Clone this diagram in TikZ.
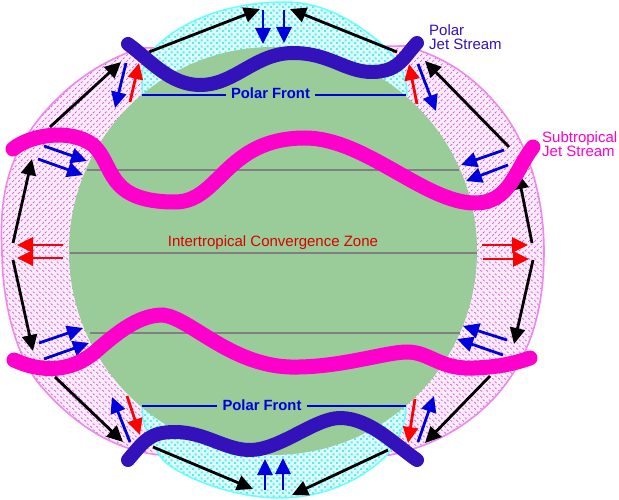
\documentclass[tikz,border=0pt]{standalone}
\usepackage{fontspec}
\setmainfont{Liberation Sans}
\usetikzlibrary{patterns,arrows.meta}
\definecolor{earth}{HTML}{99CC99}
\definecolor{fblue}{HTML}{0000DD}
\definecolor{jetpolar}{HTML}{3311BB}
\definecolor{jetsub}{HTML}{FF00CC}
\definecolor{pinkline}{HTML}{EE88EE}
\definecolor{pinkbase}{HTML}{FDECFD}
\definecolor{cyanline}{HTML}{66FFFF}
\definecolor{pinkdot}{HTML}{DA60DA}
\definecolor{cyandot}{HTML}{55EEEE}
\definecolor{cyanbase}{HTML}{E0FDFD}
\definecolor{latgray}{HTML}{808080}
\pgfdeclarepatternformonly{pinkne}{\pgfqpoint{0pt}{0pt}}{\pgfqpoint{5.5pt}{6pt}}{\pgfqpoint{5.5pt}{6pt}}{%
  \pgfsetlinewidth{0.85pt}%
  \pgfpathmoveto{\pgfqpoint{0.4pt}{0.4pt}}\pgfpathlineto{\pgfqpoint{2.2pt}{2.2pt}}%
  \pgfpathmoveto{\pgfqpoint{3.15pt}{3.4pt}}\pgfpathlineto{\pgfqpoint{4.95pt}{5.2pt}}%
  \pgfusepath{stroke}}
\pgfdeclarepatternformonly{pinknw}{\pgfqpoint{0pt}{0pt}}{\pgfqpoint{5.5pt}{6pt}}{\pgfqpoint{5.5pt}{6pt}}{%
  \pgfsetlinewidth{0.85pt}%
  \pgfpathmoveto{\pgfqpoint{0.4pt}{2.2pt}}\pgfpathlineto{\pgfqpoint{2.2pt}{0.4pt}}%
  \pgfpathmoveto{\pgfqpoint{3.15pt}{5.2pt}}\pgfpathlineto{\pgfqpoint{4.95pt}{3.4pt}}%
  \pgfusepath{stroke}}
\pgfdeclarepatternformonly{cyandots}{\pgfqpoint{0pt}{0pt}}{\pgfqpoint{6pt}{6pt}}{\pgfqpoint{6pt}{6pt}}{%
  \pgfpathrectangle{\pgfqpoint{0pt}{0pt}}{\pgfqpoint{2.4pt}{2.2pt}}%
  \pgfpathrectangle{\pgfqpoint{3pt}{3pt}}{\pgfqpoint{2.4pt}{2.2pt}}%
  \pgfusepath{fill}}
\tikzset{
  x=1pt,y=-1pt,
  arr/.style={line width=2.8pt,-{Triangle[length=16pt,width=15pt]}},
  blackarr/.style={arr,black},
  bluearr/.style={arr,fblue},
  redarr/.style={arr,red},
  polarjet/.style={line width=14pt,line cap=round,jetpolar},
  subjet/.style={line width=15pt,line cap=round,jetsub},
  lat/.style={line width=2.6pt,latgray},
  frontline/.style={line width=2.4pt,fblue},
  frontlabel/.style={text=fblue,font=\bfseries\fontsize{14.8}{16}\selectfont,inner sep=0pt},
  jetlabel/.style={align=left,anchor=west,inner sep=0pt,font=\fontsize{15}{14.2}\selectfont},
  capfill/.style={pattern=cyandots,pattern color=cyandot},
  capline/.style={draw=cyanline,line width=1.5pt},
}
\newcommand{\pinkshape}{(2,251) .. controls (-2,185) and (14,140) .. (60,96) .. controls (80,77) and (105,60) .. (140,48) -- (405,46) .. controls (450,58) and (480,82) .. (505,115) .. controls (530,150) and (544,200) .. (544,251) .. controls (544,300) and (535,345) .. (505,385) .. controls (480,418) and (440,445) .. (390,455) -- (160,455) .. controls (110,450) and (70,420) .. (40,385) .. controls (15,355) and (2,300) .. (2,251) -- cycle}
\newcommand{\captop}{(142,95) -- (142,72) .. controls (145,58) and (152,50) .. (160,43) .. controls (185,20) and (230,2) .. (285,2) .. controls (320,2) and (350,18) .. (377,40) .. controls (395,55) and (407,72) .. (407,95) -- cycle}
\newcommand{\capbot}{(142,406) -- (143,420) .. controls (148,435) and (155,450) .. (163,460) .. controls (178,475) and (230,498) .. (280,498) .. controls (320,498) and (360,482) .. (387,455) .. controls (398,440) and (406,425) .. (406,406) -- cycle}
\begin{document}
\begin{tikzpicture}
\useasboundingbox (0,0) rectangle (619,500);
% pink zone, stipple mirrored at the equator
\fill[pinkbase] \pinkshape;
\begin{scope}
  \clip (0,0) rectangle (619,251);
  \fill[pattern=pinkne,pattern color=pinkdot] \pinkshape;
\end{scope}
\begin{scope}
  \clip (0,251) rectangle (619,500);
  \fill[pattern=pinknw,pattern color=pinkdot] \pinkshape;
\end{scope}
\draw[pinkline,line width=1.6pt] \pinkshape;
% cyan caps
\fill[cyanbase] \captop;
\fill[capfill] \captop;
\draw[capline] \captop;
\fill[cyanbase] \capbot;
\fill[capfill] \capbot;
\draw[capline] \capbot;
% earth
\fill[earth] (273,251) ellipse [x radius=204,y radius=204];
\draw[lat] (87,170) -- (459,170);
\draw[lat] (70,253) -- (477,253);
\draw[lat] (90,333) -- (460,333);
% circulation arrows
\draw[blackarr] (50,127) -- (121,62);
\draw[blackarr] (13,243) -- (32,159);
\draw[blackarr] (149,52) -- (260,9);
\draw[blackarr] (397,52) -- (290,9);
\draw[blackarr] (509,147) -- (425,61);
\draw[blackarr] (532,243) -- (518,173);
\draw[blackarr] (533,260) -- (514,344);
\draw[blackarr] (490,376) -- (425,443);
\draw[blackarr] (388,450) -- (292,495);
\draw[blackarr] (13,260) -- (33,351);
\draw[blackarr] (55,377) -- (123,442);
\draw[blackarr] (153,447) -- (253,489);
\draw[bluearr] (263,10) -- (263,44);
\draw[bluearr] (284,10) -- (284,43);
\draw[bluearr] (126,63) -- (115,108);
\draw[bluearr] (44,146) -- (87,161);
\draw[bluearr] (38,159) -- (83,175);
\draw[bluearr] (418,64) -- (436,111);
\draw[bluearr] (504,150) -- (461,165);
\draw[bluearr] (508,165) -- (466,181);
\draw[bluearr] (39,343) -- (83,328);
\draw[bluearr] (44,359) -- (89,343);
\draw[bluearr] (130,442) -- (112,397);
\draw[bluearr] (507,340) -- (463,326);
\draw[bluearr] (503,355) -- (457,339);
\draw[bluearr] (418,442) -- (434,396);
\draw[bluearr] (265,490) -- (265,459);
\draw[bluearr] (283,490) -- (283,458);
\draw[redarr] (63,245) -- (17,245);
\draw[redarr] (63,258) -- (17,258);
\draw[redarr] (482,245) -- (528,245);
\draw[redarr] (483,259) -- (529,259);
\draw[redarr] (130,102) -- (139,63);
\draw[redarr] (417,104) -- (409,64);
\draw[redarr] (127,396) -- (140,435);
\draw[redarr] (415,399) -- (408,443);
% jets
\draw[polarjet] (128,44) .. controls (150,60) and (170,85) .. (200,85) .. controls (235,85) and (255,53) .. (293,53) .. controls (330,53) and (345,72) .. (372,72) .. controls (400,72) and (405,55) .. (417,43);
\draw[polarjet] (128,460) .. controls (145,440) and (150,432) .. (175,432) .. controls (205,432) and (225,450) .. (250,450) .. controls (280,450) and (315,418) .. (340,418) .. controls (370,418) and (395,445) .. (417,460);
\draw[subjet] (13,149) .. controls (30,135) and (70,128) .. (93,145) .. controls (115,165) and (105,202) .. (175,202) .. controls (220,202) and (225,138) .. (305,138) .. controls (365,138) and (425,203) .. (475,203) .. controls (510,203) and (515,170) .. (533,147);
\draw[subjet] (14,360) .. controls (40,372) and (70,373) .. (95,352) .. controls (120,330) and (140,315) .. (163,315) .. controls (190,318) and (230,365) .. (290,367) .. controls (340,368) and (385,352) .. (407,352) .. controls (430,352) and (440,370) .. (475,368) .. controls (495,367) and (510,365) .. (530,358);
% labels
\node[frontlabel] (pftop) at (270.5,93) {Polar Front};
\node[frontlabel] (pfbot) at (262,405) {Polar Front};
\coordinate (pftl) at (142,95);
\coordinate (pftr) at (406,95);
\coordinate (pfbl) at (142,406);
\coordinate (pfbr) at (406,406);
\draw[frontline] (pftl) -- ([xshift=-5pt]pftop.west |- pftl);
\draw[frontline] ([xshift=5pt]pftop.east |- pftr) -- (pftr);
\draw[frontline] (pfbl) -- ([xshift=-5pt]pfbot.west |- pfbl);
\draw[frontline] ([xshift=5pt]pfbot.east |- pfbr) -- (pfbr);
\node[text=red!85!black,inner sep=0pt,font=\fontsize{15}{17}\selectfont] (itcz) at (273,243) {Intertropical Convergence Zone};
\node[jetlabel,text=jetpolar] (polarlab) at (429,37) {Polar\\Jet Stream};
\node[jetlabel,text=jetsub] (sublab) at (542,144) {Subtropical\\Jet Stream};
\end{tikzpicture}
\end{document}
